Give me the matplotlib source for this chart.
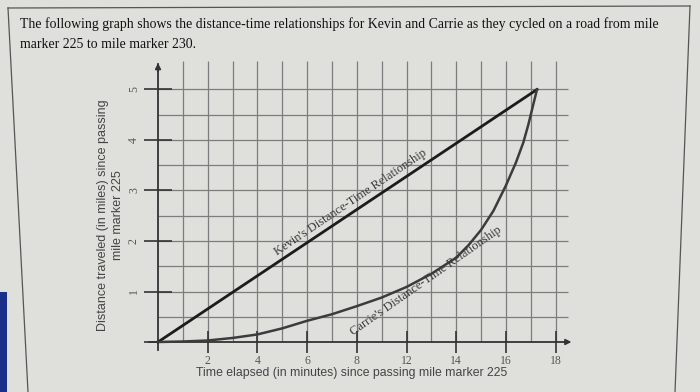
import matplotlib.pyplot as plt
from matplotlib.lines import Line2D
from matplotlib.patches import Rectangle

# grid position of each tick / label shown under the axis (labels as printed, "10" is missing)
x_ticks = [2, 4, 6, 8, 10, 12, 14, 16]
x_tick_labels = ['2', '4', '6', '8', '12', '14', '16', '18']
y_ticks = [0, 1, 2, 3, 4, 5]
y_tick_labels = ['', '1', '2', '3', '4', '5']

# Kevin: straight line
kevin_x = [0, 15.25]
kevin_y = [0, 5.0]

# Carrie: curve
carrie_x = [0, 1, 2, 3, 4, 5, 6, 7, 8, 9, 10, 11, 12, 12.5, 13, 13.5, 14, 14.4, 14.7, 14.9, 15.1, 15.25]
carrie_y = [0, 0.01, 0.03, 0.08, 0.15, 0.27, 0.42, 0.55, 0.71, 0.88, 1.09, 1.35, 1.67, 1.92, 2.22, 2.6, 3.1, 3.55, 3.95, 4.3, 4.7, 5.0]

title_lines = ["The following graph shows the distance-time relationships for Kevin and Carrie as they cycled on a road from mile",
               "marker 225 to mile marker 230."]

bg = '#dfdfdb'
fig = plt.figure(figsize=(7, 3.92), dpi=100, facecolor=bg)

# photo frame around the question
fig.add_artist(Line2D([8/700, 28/700], [1 - 8/392, 0], color='#555555', lw=0.9))
fig.add_artist(Line2D([8/700, 690/700], [1 - 8/392, 1 - 6/392], color='#555555', lw=0.9))
fig.add_artist(Line2D([690/700, 675/700], [1 - 6/392, 0], color='#555555', lw=0.9))
fig.add_artist(Rectangle((0, 0), 7/700, 100/392, color='#1a2f8a', lw=0))

fig.text(20/700, 1 - 24/392, title_lines[0], family='Liberation Serif', fontsize=9.95, va='center', color='#111111')
fig.text(20/700, 1 - 44/392, title_lines[1], family='Liberation Serif', fontsize=9.95, va='center', color='#111111')

ax = fig.add_axes([145.6/700, 1 - 352.1/392, 429.9/700, 292.9/392])
ax.set_facecolor(bg)
ax.set_xlim(-0.5, 16.8)
ax.set_ylim(-0.2, 5.6)

# grid
ax.vlines(range(1, 17), 0, 5.56, color='#7d7d7d', lw=0.9, zorder=1)
ax.hlines([0.5 * k for k in range(1, 11)], 0, 16.5, color='#7d7d7d', lw=0.9, zorder=1)

# axes with arrows
for s in ['top', 'right']:
    ax.spines[s].set_visible(False)
ax.spines['left'].set_position(('data', 0))
ax.spines['bottom'].set_position(('data', 0))
ax.spines['left'].set_bounds(-0.15, 5.5)
ax.spines['bottom'].set_bounds(-0.35, 16.5)
ax.spines['left'].set_color('#333333')
ax.spines['bottom'].set_color('#333333')
ax.spines['left'].set_linewidth(1.3)
ax.spines['bottom'].set_linewidth(1.3)
ax.annotate('', xy=(0, 5.58), xytext=(0, 5.3),
            arrowprops=dict(arrowstyle='-|>', color='#333333', lw=1.3, mutation_scale=8))
ax.annotate('', xy=(16.75, 0), xytext=(16.3, 0),
            arrowprops=dict(arrowstyle='-|>', color='#333333', lw=1.3, mutation_scale=8))

ax.set_xticks(x_ticks)
ax.set_xticklabels(x_tick_labels, family='Liberation Serif', fontsize=8.5, color='#555555')
ax.set_yticks(y_ticks)
ax.set_yticklabels(y_tick_labels, family='Liberation Serif', fontsize=8.5, color='#555555', rotation=90, va='center')
ax.tick_params(axis='x', direction='inout', length=16, width=1.2, color='#333333', pad=1)
ax.tick_params(axis='y', direction='inout', length=20, width=1.2, color='#333333', pad=3)

ax.plot(kevin_x, kevin_y, color='#1c1c1c', lw=2, zorder=3)
ax.plot(carrie_x, carrie_y, color='#3c3c3c', lw=1.8, zorder=3)

ax.text(7.75, 2.76, "Kevin's Distance-Time Relationship", family='Liberation Serif', fontsize=9,
        rotation=34, ha='center', va='center', color='#3a3a3a', rotation_mode='anchor')
ax.text(10.8, 1.2, "Carrie's Distance-Time Relationship", family='Liberation Serif', fontsize=9,
        rotation=35, ha='center', va='center', color='#3a3a3a', rotation_mode='anchor')

ax.set_xlabel('Time elapsed (in minutes) since passing mile marker 225', family='Liberation Sans',
              fontsize=8.8, color='#444444', labelpad=0)
ax.set_ylabel('Distance traveled (in miles) since passing\nmile marker 225', family='Liberation Sans',
              fontsize=9, color='#444444', labelpad=0, linespacing=1.4)
ax.yaxis.set_label_coords(-0.05, 0.468)
ax.xaxis.set_label_coords(0.48, -0.05)

plt.savefig('out.png', dpi=100, facecolor=bg)
